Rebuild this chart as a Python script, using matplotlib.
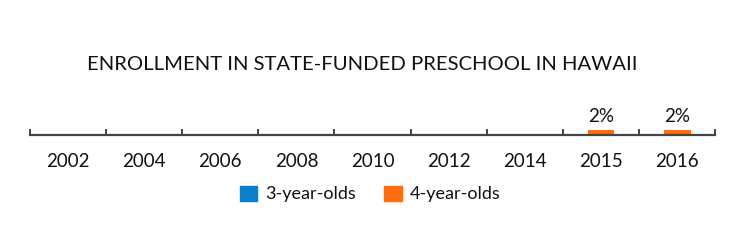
import matplotlib
matplotlib.use("Agg")
import matplotlib.pyplot as plt
from matplotlib.patches import Patch
from matplotlib import font_manager

years = ["2002", "2004", "2006", "2008", "2010", "2012", "2014", "2015", "2016"]
three_year_olds = [0, 0, 0, 0, 0, 0, 0, 0, 0]
four_year_olds = [0, 0, 0, 0, 0, 0, 0, 2, 2]
labels_4 = ["", "", "", "", "", "", "", "2%", "2%"]
title = "ENROLLMENT IN STATE-FUNDED PRESCHOOL IN HAWAII"

blue = "#0b7fcf"
orange = "#ff6c12"
dark = "#111111"

names = {f.name for f in font_manager.fontManager.ttflist}
body_font = "Lato" if "Lato" in names else "DejaVu Sans"
title_font = body_font

fig = plt.figure(figsize=(7.31, 2.41), dpi=100)
ax = fig.add_axes([30 / 731, (241 - 135) / 241, 685 / 731, 40 / 241])

x = list(range(len(years)))
w = 0.33
ax.bar(x, three_year_olds, width=w, color=blue, edgecolor=blue, linewidth=0.8)
ax.bar(x, four_year_olds, width=w, bottom=three_year_olds, color=orange,
       edgecolor=orange, linewidth=0.8)
for i, (v, b, lab) in enumerate(zip(four_year_olds, three_year_olds, labels_4)):
    if lab:
        ax.annotate(lab, (i, v + b), xytext=(0, 3.5), textcoords="offset points",
                    ha="center", va="bottom", fontsize=13.5, color=dark,
                    family=body_font)

ax.set_xlim(-0.5, len(years) - 0.5)
ax.set_ylim(0, 16)
for s in ["top", "left", "right"]:
    ax.spines[s].set_visible(False)
ax.spines["bottom"].set_color("#444444")
ax.spines["bottom"].set_linewidth(1.6)
ax.set_yticks([])
ax.set_xticks([i - 0.5 for i in range(len(years) + 1)])
ax.set_xticklabels([])
ax.tick_params(axis="x", which="major", direction="in", length=4, width=1.4,
               color="#444444")
ax.set_xticks(x, minor=True)
ax.set_xticklabels(years, minor=True, fontsize=13.5, color=dark, family=body_font)
ax.tick_params(axis="x", which="minor", length=0, pad=13)

t = fig.text(362 / 731, 1 - 65 / 241, title, ha="center", va="center",
             fontsize=16, color=dark, family=title_font)
fig.canvas.draw()
bb = t.get_window_extent()
t.set_fontsize(16 * 549 / bb.width)

handles = [Patch(facecolor=blue, edgecolor=blue), Patch(facecolor=orange, edgecolor=orange)]
fig.legend(handles, ["3-year-olds", "4-year-olds"], loc="center",
           bbox_to_anchor=(370 / 731, 1 - 194 / 241), ncol=2, frameon=False,
           handlelength=0.95, handleheight=0.95, handletextpad=0.45,
           columnspacing=1.6, prop={"size": 13.0, "family": body_font},
           labelcolor=dark)

fig.savefig("out.png", dpi=100)
